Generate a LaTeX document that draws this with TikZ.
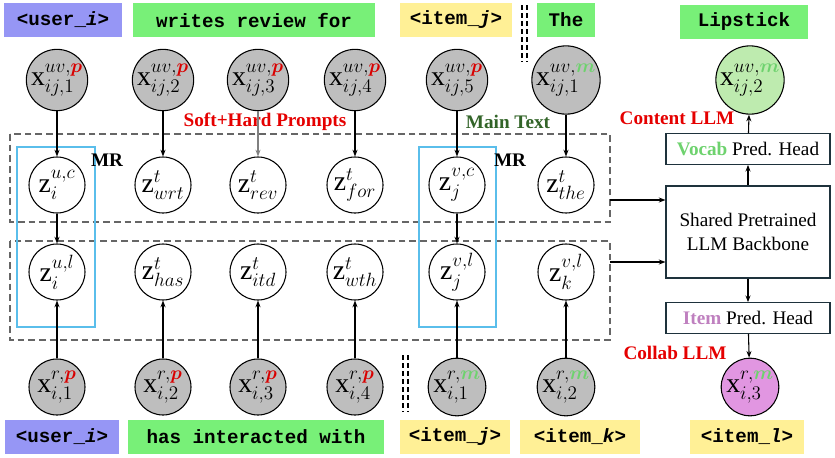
\documentclass[tikz,border=0pt]{standalone}
\usepackage{fontspec}
\usepackage{amsmath,amsbsy}
\setmainfont{Liberation Serif}
\setmonofont{Liberation Mono}
\usetikzlibrary{arrows.meta}
\definecolor{gfill}{RGB}{190,190,190}
\definecolor{lblue}{RGB}{150,150,245}
\definecolor{lgreen}{RGB}{120,240,120}
\definecolor{lyel}{RGB}{255,240,150}
\definecolor{mgreen}{RGB}{110,210,110}
\definecolor{dgreen}{RGB}{50,100,40}
\definecolor{outg}{RGB}{190,235,175}
\definecolor{outv}{RGB}{225,150,225}
\definecolor{mrblue}{RGB}{90,190,235}
\definecolor{boxc}{RGB}{30,50,60}
\newcommand{\RP}{\textcolor{red!85!black}{\boldsymbol{p}}}
\newcommand{\GM}{\textcolor{mgreen}{\boldsymbol{m}}}
\begin{document}
\begin{tikzpicture}[x=0.75pt,y=-0.75pt,
 obs/.style={circle,draw,thick,fill=gfill,minimum size=42pt,inner sep=0pt,font=\huge},
 lat/.style={circle,draw,thick,fill=white,minimum size=42pt,inner sep=0pt,font=\huge},
 lab/.style={font=\ttfamily\bfseries\Large,inner sep=0pt,minimum height=26pt},
 arr/.style={-{Stealth[length=5pt]},thick},
 hd/.style={draw=boxc,thick,minimum width=123pt,minimum height=23pt,font=\Large},
 dbox/.style={draw=gray!80!black,thick,dash pattern=on 5pt off 3pt},
 mr/.style={draw=mrblue,very thick}]
\useasboundingbox (0,0) rectangle (835,457);
% top labels
\node[lab,fill=lblue,minimum width=88pt] (t1) at (63,20) {<user\_\textit{i}>};
\node[lab,fill=lgreen,minimum width=182pt] (t2) at (254,20) {writes review for};
\node[lab,fill=lyel,minimum width=84pt] (t3) at (456,20) {<item\_\textit{j}>};
\node[lab,fill=lgreen,minimum width=44pt] (t4) at (566,20) {The};
\node[lab,fill=lgreen,minimum width=96pt] (t5) at (744,22) {Lipstick};
% bottom labels
\node[lab,fill=lblue,minimum width=86pt] (b1) at (62,437) {<user\_\textit{i}>};
\node[lab,fill=lgreen,minimum width=192pt] (b2) at (256,437) {has interacted with};
\node[lab,fill=lyel,minimum width=82pt] (b3) at (455,437) {<item\_\textit{j}>};
\node[lab,fill=lyel,minimum width=90pt] (b4) at (580,437) {<item\_\textit{k}>};
\node[lab,fill=lyel,minimum width=86pt] (b5) at (747,437) {<item\_\textit{l}>};
% separators
\draw[thick,dash pattern=on 4pt off 2pt] (522,5) -- (522,62) (527,5) -- (527,62);
\draw[thick,dash pattern=on 4pt off 2pt] (403,355) -- (403,412) (408,355) -- (408,412);
% dashed boxes
\draw[dbox] (10,134) rectangle (610,222);
\draw[dbox] (10,241) rectangle (610,340);
% MR boxes
\draw[mr] (17,147) rectangle (95,327);
\draw[mr] (419,147) rectangle (496,327);
\node[font=\bfseries\Large] (mr1) at (107,160) {MR};
\node[font=\bfseries\Large] (mr2) at (510,160) {MR};
\node[font=\bfseries\Large,text=red!90!black] (sp) at (265,122) {Soft+Hard Prompts};
\node[font=\bfseries\Large,text=dgreen] (mt) at (508,122) {Main Text};
% top x
\node[obs] (x1) at (57,80) {$\mathrm{x}^{uv,\RP}_{ij,1}$};
\node[obs] (x2) at (163,80) {$\mathrm{x}^{uv,\RP}_{ij,2}$};
\node[obs] (x3) at (258,80) {$\mathrm{x}^{uv,\RP}_{ij,3}$};
\node[obs] (x4) at (355,80) {$\mathrm{x}^{uv,\RP}_{ij,4}$};
\node[obs] (x5) at (457,80) {$\mathrm{x}^{uv,\RP}_{ij,5}$};
\node[obs] (x6) at (566,80) {$\mathrm{x}^{uv,\GM}_{ij,1}$};
\node[obs,fill=outg] (xo) at (750,80) {$\mathrm{x}^{uv,\GM}_{ij,2}$};
% z upper
\node[lat] (z1) at (57,185) {$\mathrm{z}^{u,c}_{i}$};
\node[lat] (z2) at (163,185) {$\mathrm{z}^{t}_{wrt}$};
\node[lat] (z3) at (258,185) {$\mathrm{z}^{t}_{rev}$};
\node[lat] (z4) at (355,185) {$\mathrm{z}^{t}_{for}$};
\node[lat] (z5) at (457,185) {$\mathrm{z}^{v,c}_{j}$};
\node[lat] (z6) at (566,185) {$\mathrm{z}^{t}_{the}$};
% z lower
\node[lat] (l1) at (57,272) {$\mathrm{z}^{u,l}_{i}$};
\node[lat] (l2) at (163,272) {$\mathrm{z}^{t}_{has}$};
\node[lat] (l3) at (258,272) {$\mathrm{z}^{t}_{itd}$};
\node[lat] (l4) at (355,272) {$\mathrm{z}^{t}_{wth}$};
\node[lat] (l5) at (457,272) {$\mathrm{z}^{v,l}_{j}$};
\node[lat] (l6) at (566,272) {$\mathrm{z}^{v,l}_{k}$};
% bottom x
\node[obs] (r1) at (57,387) {$\mathrm{x}^{r,\RP}_{i,1}$};
\node[obs] (r2) at (163,387) {$\mathrm{x}^{r,\RP}_{i,2}$};
\node[obs] (r3) at (258,387) {$\mathrm{x}^{r,\RP}_{i,3}$};
\node[obs] (r4) at (355,387) {$\mathrm{x}^{r,\RP}_{i,4}$};
\node[obs] (r5) at (457,387) {$\mathrm{x}^{r,\GM}_{i,1}$};
\node[obs] (r6) at (566,387) {$\mathrm{x}^{r,\GM}_{i,2}$};
\node[obs,fill=outv] (ro) at (750,387) {$\mathrm{x}^{r,\GM}_{i,3}$};
% right boxes
\node[hd] (vh) at (748,149) {\textcolor{mgreen}{\bfseries Vocab} Pred. Head};
\node[draw=boxc,thick,minimum width=123pt,minimum height=69pt,align=center,font=\Large] (bb) at (748,232) {Shared Pretrained\\LLM Backbone};
\node[hd] (ih) at (748,318) {\textcolor{outv!85!black}{\bfseries Item} Pred. Head};
\node[font=\bfseries\Large,text=red!90!black] (cl) at (677,118) {Content LLM};
\node[font=\bfseries\Large,text=red!90!black] (co) at (675,353) {Collab LLM};
% arrows
\foreach \a/\b in {x1/z1,x2/z2,x4/z4,x5/z5,x6/z6,z1/l1,z5/l5,r1/l1,r2/l2,r3/l3,r4/l4,r5/l5,r6/l6}
  \draw[arr] (\a) -- (\b);
\draw[arr,gray] (x3) -- (z3);
\coordinate (e1) at (610,200);
\coordinate (e2) at (610,262);
\draw[arr] (e1) -- (e1 -| bb.west);
\draw[arr] (e2) -- (e2 -| bb.west);
\draw[arr] (bb) -- (vh);
\draw[arr] (vh) -- (xo);
\draw[arr] (bb) -- (ih);
\draw[arr] (ih) -- (ro);
\end{tikzpicture}
\end{document}
